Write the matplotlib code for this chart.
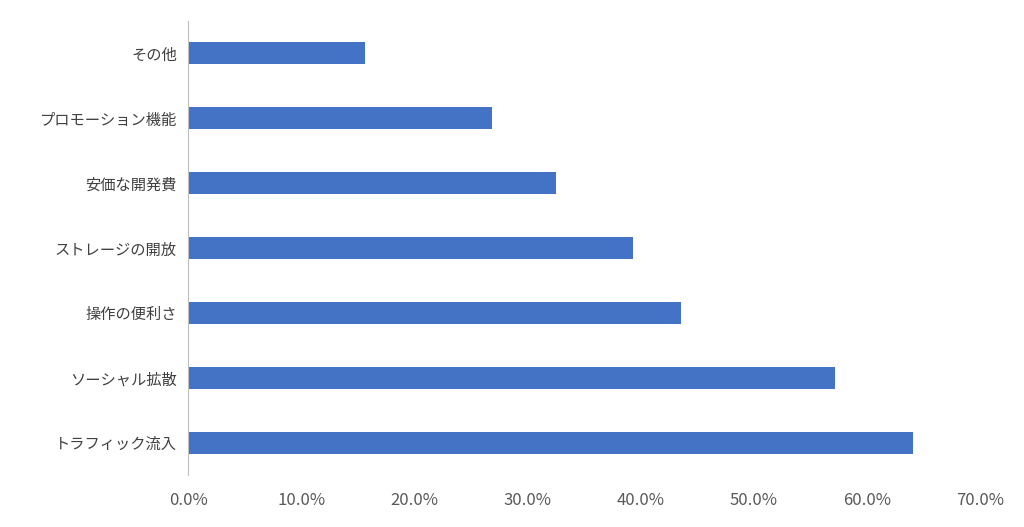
import matplotlib.pyplot as plt
from matplotlib.ticker import FuncFormatter

plt.rcParams['font.family'] = ['Noto Sans CJK JP', 'DejaVu Sans']

categories = ["トラフィック流入", "ソーシャル拡散", "操作の便利さ", "ストレージの開放",
              "安価な開発費", "プロモーション機能", "その他"]
values = [64.1, 57.2, 43.6, 39.3, 32.5, 26.9, 15.6]

fig = plt.figure(figsize=(10.24, 5.27), dpi=100)
ax = fig.add_axes([188 / 1024, 52 / 527, 792 / 1024, 454 / 527])
ax.barh(range(len(categories)), values, height=0.34, color="#4472C4")
ax.set_yticks(range(len(categories)))
ax.set_yticklabels(categories, fontsize=11, color="#404040")
ax.set_ylim(-0.5, len(categories) - 0.5)
ax.set_xlim(0, 70)
ax.set_xticks(range(0, 71, 10))
ax.xaxis.set_major_formatter(FuncFormatter(lambda v, p: f"{v:.1f}%"))
ax.tick_params(axis="x", labelsize=12, colors="#595959", length=0, pad=12)
ax.tick_params(axis="y", length=0, pad=8)
for s in ["top", "right", "bottom"]:
    ax.spines[s].set_visible(False)
ax.spines["left"].set_color("#BFBFBF")

plt.savefig("out.png", dpi=100)
